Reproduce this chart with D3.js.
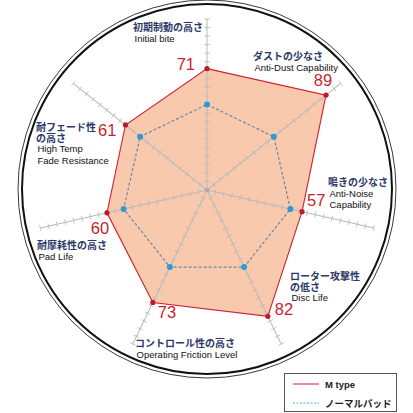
<!DOCTYPE html>
<meta charset="utf-8">
<style>
body { margin: 0; background: #fff; }
.ja { font: bold 10px "Liberation Sans", "Noto Sans CJK JP", sans-serif; fill: #2b3868; }
.en { font: 9.5px "Liberation Sans", Arial, sans-serif; fill: #111; }
.val { font: 16.5px "Liberation Sans", Arial, sans-serif; fill: #c81e2e; }
.legend text { font: bold 9.5px "Liberation Sans", "Noto Sans CJK JP", sans-serif; fill: #222; }
</style>
<svg width="413" height="413"></svg>
<script src="https://cdn.jsdelivr.net/npm/d3@7"></script>
<script>

// axes clockwise from the top
var axesJa = [["初期制動の高さ"], ["ダストの少なさ"], ["鳴きの少なさ"], ["ローター攻撃性", "の低さ"],
              ["コントロール性の高さ"], ["耐摩耗性の高さ"], ["耐フェード性", "の高さ"]];
var axesEn = [["Initial bite"], ["Anti-Dust Capability"], ["Anti-Noise", "Capability"], ["Disc Life"],
              ["Operating Friction Level"], ["Pad Life"], ["High Temp", "Fade Resistance"]];
var mType = [71, 89, 57, 82, 73, 60, 61];
var normalPad = [50, 50, 50, 50, 50, 50, 50];
var tickValues = [5, 10, 15, 20, 25, 30, 35, 40, 45, 50, 55, 60, 65, 70, 75, 80, 85, 90, 95, 100];
var seriesNames = ["M type", "ノーマルパッド"];

// where each axis title block sits (left x, first baseline)
var titlePos = [[133, 31], [253, 60], [328, 186], [290, 280], [135, 347], [37, 249], [36, 131]];
// value label offset from its point
var valOffset = [[-12, 1, "end"], [-3, -9, "middle"], [5, -6, "start"], [7, -1, "start"],
                 [5, 16, "start"], [-7, 21, "middle"], [-9, 11, "end"]];

var svg = d3.select("svg");
var cx = 207, cy = 190;

var r = d3.scaleLinear().domain([0, 100]).range([0, 171]);
var angle = d3.scaleLinear().domain([0, mType.length]).range([-Math.PI / 2, 1.5 * Math.PI]);

function pt(v, i) {
  var a = angle(i);
  return [cx + r(v) * Math.cos(a), cy + r(v) * Math.sin(a)];
}

// double ring
svg.append("circle").attr("cx", cx).attr("cy", 189).attr("r", 189)
    .attr("fill", "none").attr("stroke", "#222").attr("stroke-width", 0.9);
svg.append("circle").attr("cx", cx).attr("cy", 189).attr("r", 185)
    .attr("fill", "#fff").attr("stroke", "#111").attr("stroke-width", 2);

var line = d3.line().curve(d3.curveLinearClosed);

svg.append("path")
    .attr("d", line(mType.map(pt)))
    .attr("fill", "#f8c9ad");

// axes with ticks
var axis = svg.append("g").selectAll("g")
    .data(mType)
  .enter().append("g")
    .attr("transform", function(d, i) {
      return "translate(" + cx + "," + cy + ") rotate(" + (angle(i) * 180 / Math.PI) + ")";
    });

axis.append("line")
    .attr("x1", 0).attr("x2", r(100))
    .attr("stroke", "#b9b9b9").attr("stroke-width", 1);

axis.selectAll(".tick")
    .data(tickValues)
  .enter().append("line")
    .attr("class", "tick")
    .attr("x1", function(d) { return r(d); })
    .attr("x2", function(d) { return r(d); })
    .attr("y1", -3).attr("y2", 3)
    .attr("stroke", "#bbb").attr("stroke-width", 0.8);

svg.append("rect").attr("x", cx - 2).attr("y", cy - 2).attr("width", 4).attr("height", 4).attr("fill", "#aaa");

svg.append("path")
    .attr("d", line(normalPad.map(pt)))
    .attr("fill", "none")
    .attr("stroke", "#6a88a8")
    .attr("stroke-width", 1.2)
    .attr("stroke-dasharray", "3,2");

svg.append("path")
    .attr("d", line(mType.map(pt)))
    .attr("fill", "none")
    .attr("stroke", "#cc2030")
    .attr("stroke-width", 1.1);

svg.selectAll(".bdot")
    .data(normalPad)
  .enter().append("circle")
    .attr("class", "bdot")
    .attr("cx", function(d, i) { return pt(d, i)[0]; })
    .attr("cy", function(d, i) { return pt(d, i)[1]; })
    .attr("r", 3)
    .attr("fill", "#2b9bd2");

svg.selectAll(".rdot")
    .data(mType)
  .enter().append("circle")
    .attr("class", "rdot")
    .attr("cx", function(d, i) { return pt(d, i)[0]; })
    .attr("cy", function(d, i) { return pt(d, i)[1]; })
    .attr("r", 2.6)
    .attr("fill", "#c0182a");

// values
svg.selectAll(".val")
    .data(mType)
  .enter().append("text")
    .attr("class", "val")
    .attr("x", function(d, i) { return pt(d, i)[0] + valOffset[i][0]; })
    .attr("y", function(d, i) { return pt(d, i)[1] + valOffset[i][1]; })
    .attr("text-anchor", function(d, i) { return valOffset[i][2]; })
    .text(function(d) { return d; });

// axis titles: japanese lines first, english below
var title = svg.selectAll(".title")
    .data(axesJa)
  .enter().append("g")
    .attr("class", "title")
    .attr("transform", function(d, i) { return "translate(" + titlePos[i] + ")"; });

title.each(function(ja, i) {
  var g = d3.select(this), y = 0;
  ja.forEach(function(s, k) {
    if (k) y += 10.5;
    g.append("text").attr("class", "ja").attr("y", y).text(s);
  });
  axesEn[i].forEach(function(s, k) {
    y += k ? 11.5 : 10.5;
    g.append("text").attr("class", "en").attr("x", 1.5).attr("y", y).text(s);
  });
});

// legend
var legend = svg.append("g").attr("class", "legend");
legend.append("rect")
    .attr("x", 284.5).attr("y", 373.5).attr("width", 112).attr("height", 38)
    .attr("fill", "#fff").attr("stroke", "#555");

var item = legend.selectAll(".item")
    .data(seriesNames)
  .enter().append("g")
    .attr("transform", function(d, i) { return "translate(293," + (384 + i * 19) + ")"; });

item.append("line")
    .attr("x2", 26)
    .attr("stroke", function(d, i) { return i ? "#5aaad6" : "#cc2030"; })
    .attr("stroke-dasharray", function(d, i) { return i ? "2,1.5" : null; })
    .attr("stroke-width", 1);

item.append("text")
    .attr("x", 32).attr("y", 4)
    .text(function(d) { return d; });

</script>
